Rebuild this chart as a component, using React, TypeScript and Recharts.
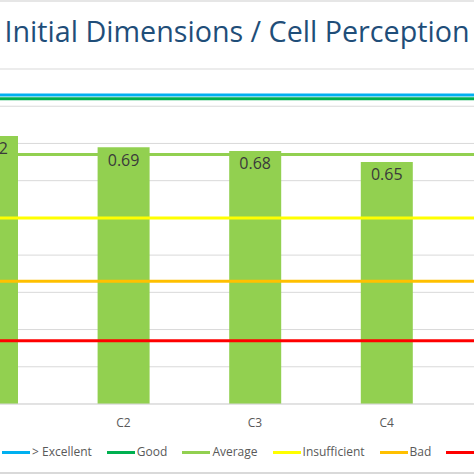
import React from "react";
import {
  ComposedChart,
  Bar,
  Line,
  XAxis,
  YAxis,
  CartesianGrid,
  LabelList,
} from "recharts";

const categories = ["C1", "C2", "C3", "C4", "C5"];
const scores = [0.72, 0.69, 0.68, 0.65, 0.66];

// threshold levels, constant across categories
const excellent = [0.83, 0.83, 0.83, 0.83, 0.83];
const good = [0.82, 0.82, 0.82, 0.82, 0.82];
const average = [0.67, 0.67, 0.67, 0.67, 0.67];
const insufficient = [0.5, 0.5, 0.5, 0.5, 0.5];
const bad = [0.33, 0.33, 0.33, 0.33, 0.33];
const veryBad = [0.17, 0.17, 0.17, 0.17, 0.17];

const yTicks = [0, 0.1, 0.2, 0.3, 0.4, 0.5, 0.6, 0.7, 0.8, 0.9];

const levels = [
  { key: "excellent", name: "> Excellent", color: "#00B0F0" },
  { key: "good", name: "Good", color: "#00B050" },
  { key: "average", name: "Average", color: "#92D050" },
  { key: "insufficient", name: "Insufficient", color: "#FFFF00" },
  { key: "bad", name: "Bad", color: "#FFC000" },
  { key: "veryBad", name: "Very Bad", color: "#FF0000" },
];

const data = categories.map((c, i) => ({
  name: c,
  score: scores[i],
  excellent: excellent[i],
  good: good[i],
  average: average[i],
  insufficient: insufficient[i],
  bad: bad[i],
  veryBad: veryBad[i],
}));

const FONT = "'Open Sans', 'Noto Sans', sans-serif";

export default function App() {
  return (
    <div
      style={{
        position: "fixed",
        left: 0,
        top: 0,
        width: 474,
        height: 474,
        overflow: "hidden",
        background: "#fff",
        fontFamily: FONT,
      }}
    >
      <div style={{ position: "absolute", left: 0, top: 0, width: 474, height: 2, background: "#e6e6e6" }} />
      <div style={{ position: "absolute", left: 0, top: 472, width: 474, height: 2, background: "#d9d9d9" }} />

      <div
        style={{
          position: "absolute",
          left: -40,
          top: 11,
          width: 554,
          textAlign: "center",
          fontSize: 28.7,
          lineHeight: "normal",
          color: "#1F4E79",
          whiteSpace: "nowrap",
        }}
      >
        Initial Dimensions / Cell Perception
      </div>

      <div style={{ position: "absolute", left: -74, top: 0 }}>
        <ComposedChart
          width={658}
          height={434}
          data={data}
          margin={{ top: 69, right: 0, bottom: 0, left: 0 }}
        >
          <CartesianGrid vertical={false} stroke="#d9d9d9" />
          <XAxis
            dataKey="name"
            tickLine={false}
            axisLine={{ stroke: "#d9d9d9" }}
            tickMargin={8}
            height={30}
            tick={{ fontSize: 12, fill: "#595959", fontFamily: FONT }}
          />
          <YAxis hide domain={[0, 0.9]} ticks={yTicks} />
          <Bar dataKey="score" fill="#92D050" barSize={52} isAnimationActive={false}>
            <LabelList
              dataKey="score"
              position="insideTop"
              offset={7}
              formatter={(v: number) => v.toFixed(2)}
              style={{ fontSize: 16, fill: "#3a3a3a", fontFamily: FONT }}
            />
          </Bar>
          {levels.map((l) => (
            <Line
              key={l.key}
              type="linear"
              dataKey={l.key}
              name={l.name}
              stroke={l.color}
              strokeWidth={3}
              dot={false}
              activeDot={false}
              isAnimationActive={false}
            />
          ))}
        </ComposedChart>
      </div>

      <div
        style={{
          position: "absolute",
          left: 2,
          top: 442,
          height: 20,
          display: "flex",
          alignItems: "center",
          gap: 15,
          whiteSpace: "nowrap",
          fontSize: 12,
          color: "#595959",
        }}
      >
        {levels.map((l) => (
          <div key={l.key} style={{ display: "flex", alignItems: "center" }}>
            <span style={{ display: "inline-block", width: 28, height: 3, background: l.color }} />
            <span style={{ marginLeft: 2, lineHeight: "20px" }}>{l.name}</span>
          </div>
        ))}
      </div>
    </div>
  );
}
